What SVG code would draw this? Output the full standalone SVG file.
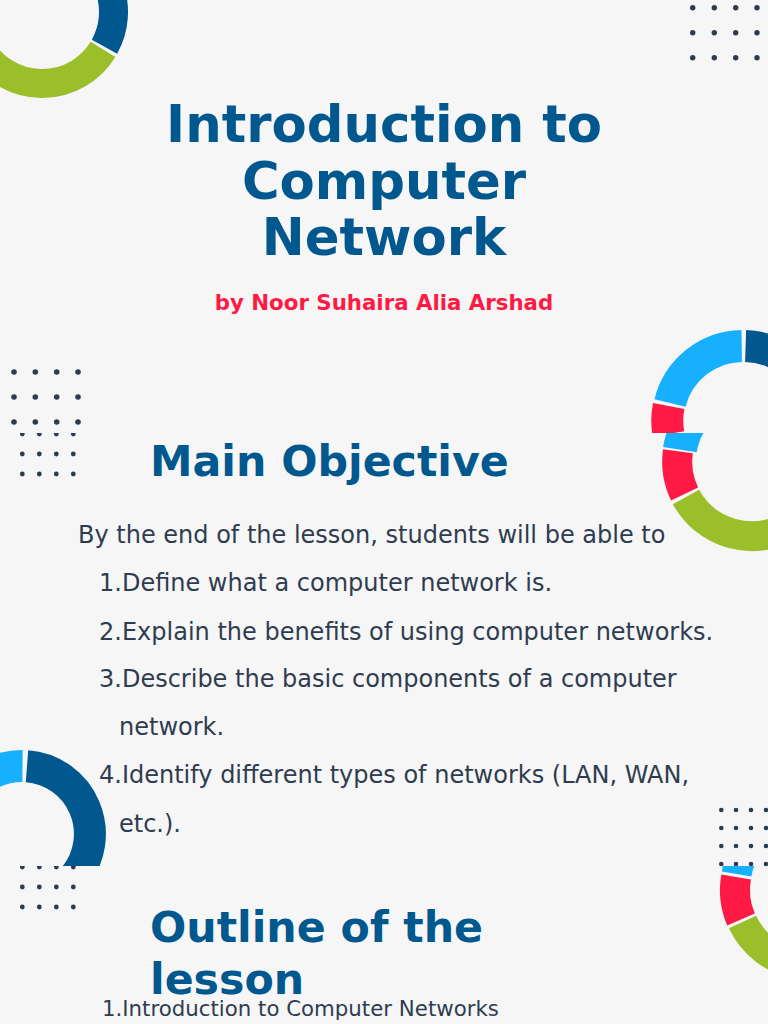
<svg xmlns="http://www.w3.org/2000/svg" width="768" height="1024" viewBox="0 0 768 1024">
<style>
text{font-family:"DejaVu Sans",sans-serif}
.t{font-weight:700;fill:#00588f;text-anchor:middle;font-size:51.3px}
.h{font-weight:700;fill:#00588f;font-size:42.7px}
.s{font-weight:700;fill:#fe1a44;font-size:21.3px;text-anchor:middle}
.b{fill:#2f3c50;font-size:24px}
.c{fill:#2f3c50;font-size:21.3px}
.r{fill:none}
.db{stroke:#00588f}.lb{stroke:#17b0ff}.rd{stroke:#fe1a44}.gr{stroke:#9bbf2a}
.dot{fill:#2d3b4f}
</style>
<defs>
<clipPath id="p1"><rect x="0" y="0" width="768" height="433"/></clipPath>
<clipPath id="p2"><rect x="0" y="433" width="768" height="433"/></clipPath>
<clipPath id="p3"><rect x="0" y="866" width="768" height="158"/></clipPath>
</defs>
<rect width="768" height="1024" fill="#f6f6f6"/>
<g id="ring-top-left" class="r" stroke-width="29">
<path class="db" d="M109.2 -12.5A71.5 71.5 0 0 1 104.5 46.7"/>
<path class="gr" d="M103 49.4A71.5 71.5 0 0 1 -19.9 47.75"/>
</g>
<g id="dots-top-right" class="dot">
<circle cx="692.7" cy="7.7" r="2.7"/><circle cx="714.3" cy="7.7" r="2.7"/><circle cx="735.7" cy="7.7" r="2.7"/><circle cx="757" cy="7.7" r="2.7"/>
<circle cx="692.7" cy="32.7" r="2.7"/><circle cx="714.3" cy="32.7" r="2.7"/><circle cx="735.7" cy="32.7" r="2.7"/><circle cx="757" cy="32.7" r="2.7"/>
<circle cx="692.7" cy="57.7" r="2.7"/><circle cx="714.3" cy="57.7" r="2.7"/><circle cx="735.7" cy="57.7" r="2.7"/><circle cx="757" cy="57.7" r="2.7"/>
</g>
<g id="title"><text class="t" x="384" y="142">Introduction to</text><text class="t" x="384" y="199">Computer</text><text class="t" x="384" y="255">Network</text></g>
<g id="author"><text class="s" x="384" y="310">by Noor Suhaira Alia Arshad</text></g>
<g id="dots-left-1" class="dot">
<circle cx="14" cy="372" r="2.8"/><circle cx="35.3" cy="372" r="2.8"/><circle cx="56.7" cy="372" r="2.8"/><circle cx="78" cy="372" r="2.8"/>
<circle cx="14" cy="397" r="2.8"/><circle cx="35.3" cy="397" r="2.8"/><circle cx="56.7" cy="397" r="2.8"/><circle cx="78" cy="397" r="2.8"/>
<circle cx="14" cy="422" r="2.8"/><circle cx="35.3" cy="422" r="2.8"/><circle cx="56.7" cy="422" r="2.8"/><circle cx="78" cy="422" r="2.8"/>
</g>
<g id="dots-left-2" class="dot" clip-path="url(#p2)">
<circle cx="22.3" cy="434" r="2.4"/><circle cx="39.3" cy="434" r="2.4"/><circle cx="56.3" cy="434" r="2.4"/><circle cx="73.3" cy="434" r="2.4"/>
<circle cx="22.3" cy="454" r="2.4"/><circle cx="39.3" cy="454" r="2.4"/><circle cx="56.3" cy="454" r="2.4"/><circle cx="73.3" cy="454" r="2.4"/>
<circle cx="22.3" cy="474" r="2.4"/><circle cx="39.3" cy="474" r="2.4"/><circle cx="56.3" cy="474" r="2.4"/><circle cx="73.3" cy="474" r="2.4"/>
</g>
<g id="ring-right-1" class="r" stroke-width="32" clip-path="url(#p1)">
<path class="db" d="M745.6 346A75 75 0 0 1 800 372"/>
<path class="lb" d="M670 403A75 75 0 0 1 741.7 346"/>
<path class="rd" d="M668.5 434A75 75 0 0 1 668.7 406"/>
</g>
<g id="ring-right-2" class="r" clip-path="url(#p2)">
<path class="lb" stroke-width="34" d="M700.4 409.4A73 73 0 0 0 679.9 449.6"/>
<path class="rd" stroke-width="30" d="M677.9 451.2A75 75 0 0 0 684.6 494"/>
<path class="gr" stroke-width="30" d="M686 497A75 75 0 0 0 789.5 526"/>
</g>
<g id="dots-right" class="dot">
<circle cx="721.3" cy="810" r="2.3"/><circle cx="736" cy="810" r="2.3"/><circle cx="751" cy="810" r="2.3"/><circle cx="766" cy="810" r="2.3"/>
<circle cx="721.3" cy="828" r="2.3"/><circle cx="736" cy="828" r="2.3"/><circle cx="751" cy="828" r="2.3"/><circle cx="766" cy="828" r="2.3"/>
<circle cx="721.3" cy="846" r="2.3"/><circle cx="736" cy="846" r="2.3"/><circle cx="751" cy="846" r="2.3"/><circle cx="766" cy="846" r="2.3"/>
<circle cx="721.3" cy="864" r="2.3"/><circle cx="736" cy="864" r="2.3"/><circle cx="751" cy="864" r="2.3"/><circle cx="766" cy="864" r="2.3"/>
</g>
<g id="ring-bottom-left" class="r" stroke-width="32" clip-path="url(#p2)">
<path class="lb" d="M22.500 766A68 68 0 0 0 -40 806"/>
<path class="db" d="M27 766.200A68 68 0 0 1 74 877.700"/>
</g>
<g id="dots-left-3" class="dot" clip-path="url(#p3)">
<circle cx="22.3" cy="867" r="2.4"/><circle cx="39.3" cy="867" r="2.4"/><circle cx="56.3" cy="867" r="2.4"/><circle cx="73.3" cy="867" r="2.4"/>
<circle cx="22.3" cy="887" r="2.4"/><circle cx="39.3" cy="887" r="2.4"/><circle cx="56.3" cy="887" r="2.4"/><circle cx="73.3" cy="887" r="2.4"/>
<circle cx="22.3" cy="907" r="2.4"/><circle cx="39.3" cy="907" r="2.4"/><circle cx="56.3" cy="907" r="2.4"/><circle cx="73.3" cy="907" r="2.4"/>
</g>
<g id="ring-bottom-right" class="r" stroke-width="30" clip-path="url(#p3)">
<path class="lb" d="M748 845A75 75 0 0 0 736.6 874"/>
<path class="rd" d="M736.1 877A75 75 0 0 0 741 919.5"/>
<path class="gr" d="M742.5 922A75 75 0 0 0 797 964"/>
</g>
<g id="objective">
<text class="h" x="150" y="476">Main Objective</text>
<text class="b" x="78" y="543">By the end of the lesson, students will be able to</text>
<text class="b" x="99" y="591">1.Define what a computer network is.</text>
<text class="b" x="99" y="639.500">2.Explain the benefits of using computer networks.</text>
<text class="b" x="99" y="687">3.Describe the basic components of a computer</text>
<text class="b" x="119" y="735">network.</text>
<text class="b" x="99" y="783">4.Identify different types of networks (LAN, WAN,</text>
<text class="b" x="119" y="832">etc.).</text>
</g>
<g id="outline">
<text class="h" x="150" y="942">Outline of the</text>
<text class="h" x="150" y="994">lesson</text>
<text class="c" x="102" y="1016">1.Introduction to Computer Networks</text>
</g>
</svg>
